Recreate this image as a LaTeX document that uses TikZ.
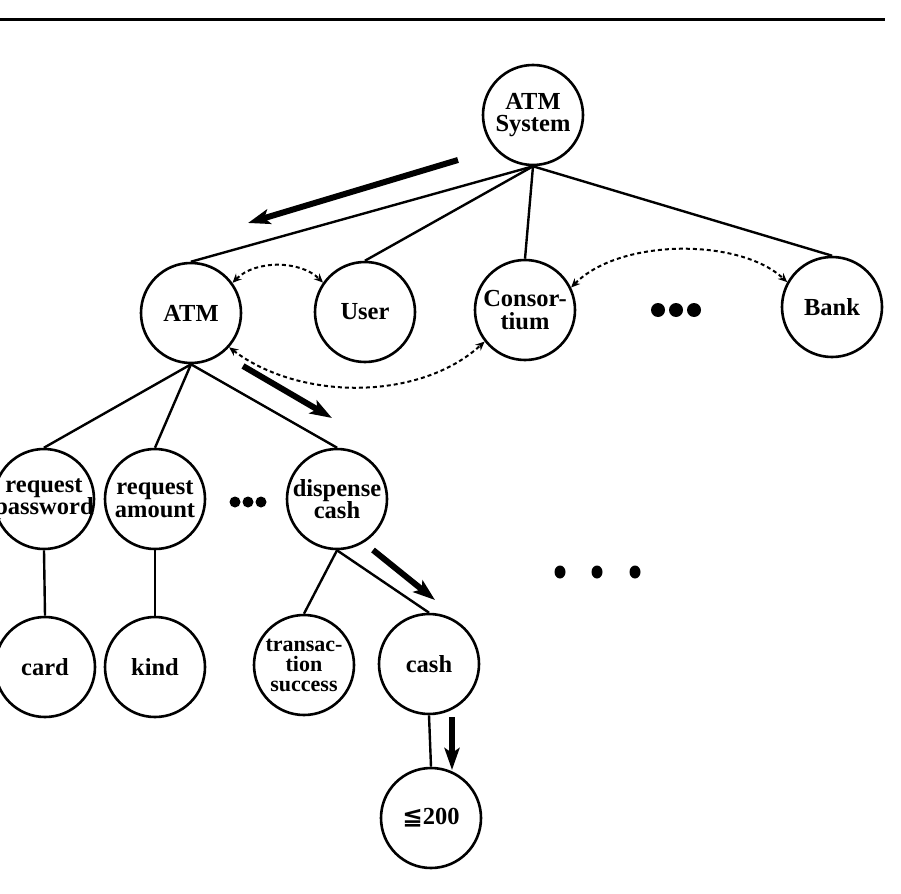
\documentclass[tikz,border=0pt]{standalone}
\usepackage{fontspec}
\setmainfont{Liberation Serif}
\newfontfamily\symfont{DejaVu Sans}
\usetikzlibrary{shapes.geometric,arrows.meta}
\begin{document}
\begin{tikzpicture}[x=1pt,y=-1pt,
 st/.style={circle,draw,line width=2.6pt,minimum size=100pt,inner sep=0pt},
 txt/.style={font=\bfseries\fontsize{24.5}{22.5}\selectfont,align=center,inner sep=0pt},
 txtt/.style={font=\bfseries\fontsize{22}{20}\selectfont,align=center,inner sep=0pt},
 edge/.style={line width=2.4pt},
 flow/.style={line width=6pt,-{Stealth[length=22pt,width=15pt,inset=5pt]}},
 link/.style={line width=2pt,dash pattern=on 4pt off 3pt,{Stealth[length=9pt,width=8pt]}-{Stealth[length=9pt,width=8pt]}},
 bigdot/.style={circle,fill,inner sep=0pt,minimum size=14pt},
 smalldot/.style={circle,fill,inner sep=0pt,minimum size=11pt},
 fardot/.style={ellipse,fill,inner sep=0pt,minimum width=11pt,minimum height=13pt}]
\useasboundingbox (0,0) rectangle (901,893);

% header rule
\coordinate (r1) at (0,20);
\coordinate (r2) at (885,20);
\draw[line width=3pt] (r1) -- (r2);

% nodes
\node[st] (sys) at (533,115) {};
\node[txt] (syst) at (sys) {ATM\\System};
\node[st] (atm) at (191,313) {};
\node[txt] (atmt) at (atm) {ATM};
\node[st] (user) at (365,312) {};
\node[txt] (usert) at (user) {User};
\node[st] (cons) at (525,310) {};
\node[txt] (const) at (cons) {Consor-\\tium};
\node[st] (bank) at (832,307) {};
\node[txt] (bankt) at (bank) {Bank};
\node[st] (rp) at (44,499) {};
\node[txt] (rpt) at (rp) {request\\password};
\node[st] (ra) at (155,499) {};
\node[txt] (rat) at (ra) {request\\amount};
\node[st] (dc) at (337,499) {};
\node[txt] (dct) at (dc) {dispense\\cash};
\node[st] (card) at (45,667) {};
\node[txt] (cardt) at (card) {card};
\node[st] (kind) at (155,667) {};
\node[txt] (kindt) at (kind) {kind};
\node[st] (ts) at (304,665) {};
\node[txtt] (tst) at (ts) {transac-\\tion\\success};
\node[st] (cash) at (429,664) {};
\node[txt] (casht) at (cash) {cash};
\node[st] (le) at (431,818) {};
\node[txt] (let) at (le) {{\symfont\bfseries ≦}200};

% tree edges
\draw[edge] (sys.south) -- (atm.north);
\draw[edge] (sys.south) -- (user.north);
\draw[edge] (sys.south) -- (cons.north);
\draw[edge] (sys.south) -- (bank.north);
\draw[edge] (atm.south) -- (rp.north);
\draw[edge] (atm.south) -- (ra.north);
\draw[edge] (atm.south) -- (dc.north);
\draw[edge] (rp.south) -- (card.north);
\draw[edge] (ra.south) -- (kind.north);
\draw[edge] (dc.south) -- (ts.north);
\draw[edge] (dc.south) -- (cash.north);
\draw[edge] (cash.south) -- (le.north);

% thick flow arrows
\coordinate (f1s) at (458,160); \coordinate (f1e) at (248,223);
\coordinate (f2s) at (243,366); \coordinate (f2e) at (332,418);
\coordinate (f3s) at (373,550); \coordinate (f3e) at (435,600);
\coordinate (f4s) at (452,717); \coordinate (f4e) at (452,770);
\draw[flow] (f1s) -- (f1e);
\draw[flow] (f2s) -- (f2e);
\draw[flow] (f3s) -- (f3e);
\draw[flow] (f4s) -- (f4e);

% dashed links
\draw[link] (atm.36) .. controls (255,260) and (300,260) .. (user.145);
\draw[link] (cons.26) .. controls (620,238) and (740,238) .. (bank.151);
\draw[link] (atm.-42) .. controls (300,401) and (420,401) .. (cons.218);

% ellipsis dots
\node[bigdot] (da1) at (658,310) {};
\node[bigdot] (da2) at (676,310) {};
\node[bigdot] (da3) at (694,310) {};
\node[smalldot] (db1) at (235,502) {};
\node[smalldot] (db2) at (248,502) {};
\node[smalldot] (db3) at (261,502) {};
\node[fardot] (dc1) at (560,572) {};
\node[fardot] (dc2) at (597,572) {};
\node[fardot] (dc3) at (635,572) {};
\end{tikzpicture}
\end{document}
